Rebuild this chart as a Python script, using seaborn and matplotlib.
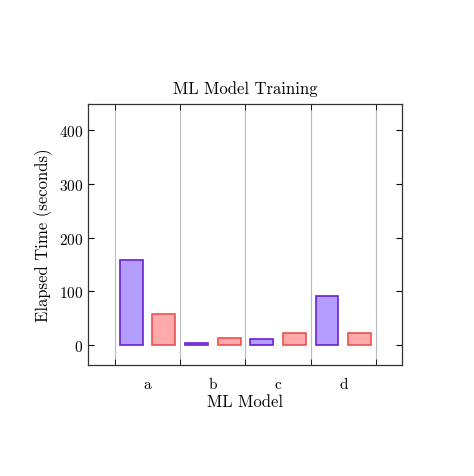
import pandas as pd
import seaborn as sns
import matplotlib.pyplot as plt
from matplotlib.ticker import FixedLocator

sns.set_style('white')
plt.rcParams['font.family'] = ['cmr10', 'DejaVu Serif']
plt.rcParams['axes.formatter.use_mathtext'] = True
plt.rcParams['mathtext.fontset'] = 'cm'
plt.rcParams['text.color'] = 'black'
plt.rcParams['axes.labelcolor'] = 'black'
plt.rcParams['xtick.color'] = 'black'
plt.rcParams['ytick.color'] = 'black'

models = ['a', 'b', 'c', 'd']
first = [158, 3, 11, 91]
second = [58, 13, 22, 22]

df = pd.DataFrame({
    'model': models * 2,
    'time': first + second,
    'run': ['first'] * 4 + ['second'] * 4,
})

fig = plt.figure(figsize=(4.74, 4.77), dpi=100)
ax = fig.add_axes([0.1857, 0.2327, 0.6624, 0.547])
sns.barplot(data=df, x='model', y='time', hue='run', width=1.0, gap=0.3,
            palette=['#b39dff', '#ffaaaa'], saturation=1, legend=False, ax=ax)
edges = ['#6a1fd6'] * 4 + ['#ee5050'] * 4
for bar, ec in zip(ax.patches, edges):
    bar.set_edgecolor(ec)
    bar.set_linewidth(1.2)

ax.set_xlim(-0.913, 3.9)
ax.set_ylim(-37, 448)
ax.set_yticks([0, 100, 200, 300, 400])
ax.xaxis.set_minor_locator(FixedLocator([-0.5, 0.5, 1.5, 2.5, 3.5]))
ax.tick_params(axis='x', which='major', length=0, pad=9, labelsize=11)
ax.tick_params(axis='x', which='minor', direction='in', length=4,
               top=True, bottom=True)
ax.tick_params(axis='y', direction='in', length=4, left=True, right=True,
               labelsize=11)
ax.grid(True, which='minor', axis='x', color='#bbbbbb', linewidth=0.8)
ax.set_axisbelow(True)
for s in ax.spines.values():
    s.set_color('#333333')
    s.set_linewidth(0.9)

ax.set_xlabel('ML Model', fontsize=12, labelpad=2)
ax.set_ylabel('Elapsed Time (seconds)', fontsize=12)
ax.set_title('ML Model Training', fontsize=12, pad=8)
fig.savefig('out.png', dpi=100)
